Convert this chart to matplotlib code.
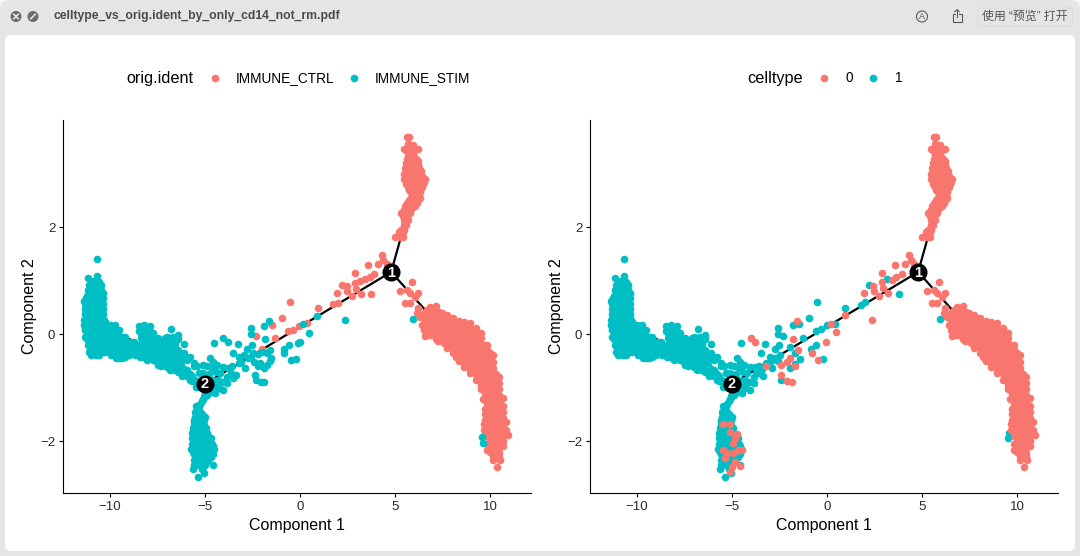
import matplotlib
matplotlib.use("Agg")
import matplotlib.pyplot as plt
from matplotlib.patches import FancyBboxPatch, Circle, Rectangle

plt.rcParams['font.family'] = ['Liberation Sans', 'Noto Sans CJK SC', 'DejaVu Sans']

RED = '#F8766D'
TEAL = '#00BFC4'

# points, branch by branch (x, y)
left_top = [(-10.7,1.41),(-11.15,1.05),(-10.85,1.0),(-10.7,1.08),(-10.55,0.98),
    (-11.1,.92),(-10.85,.92),(-10.6,.92),(-10.45,.92),(-11.15,.82),(-10.9,.82),(-10.65,.82),(-10.45,.82),
    (-11.2,.72),(-10.95,.72),(-10.7,.72),(-10.45,.72),(-11.35,.62),(-11.1,.62),(-10.85,.62),(-10.6,.62),(-10.42,.62),
    (-11.25,.52),(-11,.52),(-10.75,.52),(-10.45,.52),(-11.25,.42),(-11,.42),(-10.75,.42),(-10.45,.42),
    (-11.25,.32),(-11,.32),(-10.75,.32),(-10.4,.32),(-11.25,.22),(-11,.22),(-10.75,.22),(-10.45,.22),(-10.25,.22),
    (-11.3,.12),(-11.05,.12),(-10.8,.12),(-10.5,.12),(-10.2,.12),(-9.85,.12)]
left_band = [(-11.2,0),(-11.2,-.1),(-11.15,-.2),(-10.95,0),(-10.95,-.1),(-10.95,-.2),(-10.95,-.3),(-10.95,-.38),(-10.75,-.4),
    (-10.7,0),(-10.7,-.1),(-10.7,-.2),(-10.7,-.3),(-10.4,.02),(-10.4,-.08),(-10.4,-.18),(-10.4,-.28),(-10.4,-.33),
    (-10.1,.02),(-10.1,-.08),(-10.1,-.18),(-10.1,-.28),(-9.8,0),(-9.8,-.1),(-9.8,-.2),(-9.8,-.3),(-9.8,-.38),
    (-9.5,.07),(-9.5,-.03),(-9.5,-.13),(-9.5,-.23),(-9.5,-.33),(-9.5,-.43),(-9.2,-.05),(-9.2,-.15),(-9.2,-.25),(-9.2,-.35),(-9.2,-.42),
    (-8.9,-.15),(-8.9,-.25),(-8.9,-.35),(-8.6,-.28),(-8.6,-.36)]
left_band2 = [(-8.45,.15),(-8.45,.05),(-8.45,-.3),(-8.4,-.42),(-8.2,.17),(-8.2,.07),(-8.2,-.03),(-8.2,-.13),(-8.2,-.23),(-8.2,-.33),(-8.2,-.43),
    (-7.9,.15),(-7.9,.05),(-7.9,-.05),(-7.9,-.15),(-7.9,-.25),(-7.9,-.35),(-7.9,-.45),(-7.6,-.1),(-7.6,-.2),(-7.6,-.3),(-7.6,-.4),(-7.6,-.5),
    (-7.3,-.15),(-7.3,-.25),(-7.3,-.35),(-7.3,-.45),(-7.3,-.55),(-7.3,-.6),(-7,-.05),(-7,-.15),(-7,-.25),(-7,-.35),(-7,-.45),(-7,-.55),(-7,-.62),
    (-6.78,.09),(-6.7,-.05),(-6.7,-.15),(-6.7,-.25),(-6.7,-.35),(-6.7,-.55),(-6.7,-.65),(-6.4,-.02),(-6.4,-.1),(-6.4,-.3),(-6.4,-.45),(-6.4,-.55),(-6.4,-.7),
    (-6.1,-.18),(-6.1,-.35),(-6.1,-.4),(-6.1,-.65),(-6.1,-.75),(-5.8,-.42),(-5.8,-.75),(-5.8,-.85),(-5.6,-.55),(-5.6,-.6),(-5.6,-.85),(-5.35,-.9),(-5.35,-.98)]
node2_cluster = [(-4.74,-.45),(-5.09,-.58),(-4.39,-.58),(-4.04,-.61),(-4.21,-.73),(-3.86,-.8),(-4.56,-.52),(-4.91,-.6),(-4.65,-.64),
    (-4.39,-.99),(-4.04,-1.05),(-4.12,-.89),(-4.48,-1.11),(-4.91,-1.14),(-3.86,-.92),(-5.1,-.72),(-4.7,-1.08),
    (-4.4,-.7),(-4.3,-.85),(-4.55,-.85),(-4.65,-.95),(-4.25,-1.0),(-3.65,-.72),(-3.6,-.6),(-3.2,-.55),(-4.8,-.75),(-5.3,-.72),(-5.4,-.6)]
bottom_blob = [(-5,-1.12),(-5.1,-1.22),(-5.25,-1.3),(-5.35,-1.38),(-5.5,-1.45),(-5.25,-1.45),(-5.5,-1.55),(-5.25,-1.55),(-5,-1.55),
    (-5.6,-1.65),(-5.35,-1.65),(-5.1,-1.65),(-5.65,-1.75),(-5.4,-1.75),(-5.15,-1.75),(-4.95,-1.75),(-5.7,-1.85),(-5.45,-1.85),(-5.2,-1.85),(-4.9,-1.85),
    (-5.7,-1.95),(-5.45,-1.95),(-5.2,-1.95),(-4.95,-1.95),(-4.7,-1.95),(-5.7,-2.05),(-5.45,-2.05),(-5.2,-2.05),(-4.95,-2.05),(-4.65,-2.05),
    (-5.75,-2.15),(-5.5,-2.15),(-5.25,-2.15),(-5,-2.15),(-4.75,-2.15),(-4.5,-2.15),(-5.6,-2.25),(-5.3,-2.25),(-5.05,-2.25),(-4.8,-2.25),(-4.6,-2.25),
    (-5.55,-2.35),(-5.3,-2.35),(-5.05,-2.35),(-4.85,-2.35),(-5.6,-2.45),(-5.3,-2.45),(-5,-2.45),(-4.6,-2.45),(-5.65,-2.52),(-5.15,-2.52),(-5.05,-2.6),(-5.35,-2.68)]
top_branch = [(5.65,3.68),(5.75,3.69),(5.67,3.55),(5.93,3.53),(6.23,3.45),(5.47,3.45),(5.65,3.42),(5.7,3.35),(5.95,3.35),
    (5.65,3.27),(5.9,3.27),(6.1,3.27),(5.6,3.19),(5.85,3.19),(6.1,3.19),(5.55,3.1),(5.8,3.1),(6.05,3.1),(6.25,3.1),
    (5.5,3),(5.75,3),(6,3),(6.3,3),(5.5,2.9),(5.75,2.9),(6,2.9),(6.25,2.9),(6.6,2.9),(5.6,2.8),(5.85,2.8),(6.1,2.8),(6.45,2.8),
    (5.75,2.7),(6,2.7),(6.3,2.7),(5.95,2.6),(6.2,2.6),(5.75,2.5),(6,2.5),(6.2,2.5),(5.55,2.4),(5.8,2.4),(6.05,2.4),(5.5,2.32),(5.75,2.32),(5.45,2.32),
    (5.3,2.26),(5.55,2.26),(5.8,2.26),(5.5,2.13),(5.7,2.13),(5.45,2.03),(5.6,2.03),(5.3,1.95),(5.5,1.95),(5,1.82),(5.25,1.82),(5.4,1.82)]
right_near = [(5.26,.81),(5.61,.82),(5.88,.97),(5.79,.76),(6.23,.77),(6.05,.7),(5.53,.58),(5.79,.58),(6.23,.48),(6.14,.39),(6.3,.32),
    (6.58,-.04),(7.28,-.13),(6.4,.17),(6.67,.1),(9.61,-1.21)]
right_band = [(6.7,.45),(6.7,.34),(6.7,.23),(6.7,.12),(7,.48),(7,.37),(7,.26),(7,.15),(7,.04),
    (7.3,.42),(7.3,.31),(7.3,.2),(7.3,.09),(7.3,-.02),(7.6,.36),(7.6,.25),(7.6,.14),(7.6,.03),(7.6,-.08),(7.6,-.17),
    (7.9,.3),(7.9,.19),(7.9,.08),(7.9,-.03),(7.9,-.14),(7.9,-.25),(8.2,.2),(8.2,.1),(8.2,-.01),(8.2,-.12),(8.2,-.23),(8.2,-.34),(8.2,-.42),
    (8.5,.18),(8.5,.07),(8.5,-.04),(8.5,-.15),(8.5,-.26),(8.5,-.37),(8.5,-.5),(8.8,.17),(8.8,.06),(8.8,-.05),(8.8,-.16),(8.8,-.27),(8.8,-.38),(8.8,-.49),(8.8,-.6),
    (9.1,.08),(9.1,-.03),(9.1,-.14),(9.1,-.25),(9.1,-.36),(9.1,-.47),(9.1,-.58),(9.1,-.69),(9.4,-.02),(9.4,-.13),(9.4,-.24),(9.4,-.35),(9.4,-.46),(9.4,-.57),(9.4,-.68),(9.4,-.79),(9.4,-.86),
    (9.7,-.2),(9.7,-.31),(9.7,-.42),(9.7,-.53),(9.7,-.64),(9.7,-.75),(9.7,-.86),(9.7,-.97),(10,-.35),(10,-.46),(10,-.57),(10,-.68),(10,-.79),(10,-.9),(10,-1.01),(10,-1.12)]
right_tail = [(10.3,-.75),(10.3,-.86),(10.3,-.97),(10.3,-1.08),(10.3,-1.19),(10.3,-1.3),(10.3,-1.41),(10.3,-1.52),(10.3,-1.63),(10.3,-1.74),(10.3,-1.85),(10.3,-1.96),(10.3,-2.07),(10.3,-2.18),(10.3,-2.29),
    (10.55,-1.3),(10.55,-1.41),(10.55,-1.52),(10.55,-1.63),(10.55,-1.74),(10.55,-1.85),(10.55,-1.96),(10.55,-2.05),(10.85,-1.65),(10.85,-1.8),(10.95,-1.88),
    (10,-1.23),(10,-1.34),(10,-1.45),(10,-1.56),(10,-1.67),(10,-1.78),(10,-1.89),(10,-2),(10,-2.11),(10,-2.2),
    (9.75,-1.4),(9.75,-1.5),(9.75,-1.6),(9.75,-1.7),(9.86,-2.17),(10.18,-2.36),(10.53,-2.36),(10.35,-2.48),(9.72,-1.1),(9.55,-1.02)]

# more points inside the dense parts, (y, [x, ...]) rows and (x, [y, ...]) columns
left_fill_rows = [(.97,[-10.95,-10.7]),(.87,[-11.05,-10.8,-10.55]),(.77,[-11.1,-10.85,-10.55,-10.35]),(.67,[-11.25,-11,-10.75,-10.5,-10.35]),
    (.57,[-11.3,-11.1,-10.85,-10.6,-10.35]),(.47,[-11.3,-11.1,-10.85,-10.6,-10.35]),(.37,[-11.3,-11.1,-10.85,-10.6,-10.35]),(.27,[-11.35,-11.1,-10.85,-10.6,-10.3]),
    (.17,[-11.35,-11.15,-10.9,-10.65,-10.35,-10,-9.75]),(.07,[-11.3,-11.05,-10.8,-10.55,-10.25,-9.95,-9.65]),
    (-.05,[-11.3,-11.05,-10.8,-10.55,-10.25,-9.95,-9.65,-9.35]),(-.15,[-11.05,-10.8,-10.55,-10.25,-9.95,-9.65,-9.35,-9.05,-8.75]),
    (-.25,[-11.05,-10.8,-10.55,-10.25,-9.95,-9.65,-9.35,-9.05,-8.75,-8.55]),(-.33,[-11.1,-10.85,-10.55,-10.25,-9.95,-9.65,-9.35,-9.05,-8.75,-8.5]),
    (-.4,[-11,-10.6,-9.95,-9.65,-9.35,-9,-8.7]),(-.45,[-9.7,-9.5,-9.35])]
band2_fill_rows = [(.12,[-8.35,-8.05]),(.02,[-8.35,-8.05,-7.75]),(-.08,[-8.35,-8.05,-7.75,-7.45,-7.1,-6.85]),(-.18,[-8.35,-8.05,-7.75,-7.45,-7.15,-6.85,-6.55]),
    (-.28,[-8.35,-8.05,-7.75,-7.45,-7.15,-6.85,-6.55]),(-.38,[-8.3,-8.05,-7.75,-7.45,-7.15,-6.85,-6.55,-6.25]),(-.48,[-8.05,-7.75,-7.45,-7.15,-6.85,-6.55,-6.25,-5.95]),
    (-.58,[-7.45,-7.15,-6.85,-6.55,-6.25]),(-.68,[-6.85,-6.55,-6.25,-5.95]),(-.78,[-6.2,-5.95,-5.7]),(-.88,[-5.7,-5.5,-5.2]),(-.98,[-5.45,-5.2])]
blob_fill_rows = [(-1.17,[-5.05]),(-1.26,[-5.18]),(-1.34,[-5.3,-5.45]),(-1.5,[-5.4,-5.15]),(-1.6,[-5.55,-5.3,-5.05]),(-1.7,[-5.55,-5.3,-5.05]),(-1.8,[-5.6,-5.3,-5.05]),
    (-1.9,[-5.6,-5.3,-5.1,-4.85]),(-2.0,[-5.6,-5.3,-5.1,-4.8]),(-2.1,[-5.6,-5.35,-5.1,-4.85,-4.6]),(-2.2,[-5.65,-5.4,-5.15,-4.9,-4.65]),(-2.3,[-5.45,-5.2,-4.95,-4.7]),(-2.4,[-5.45,-5.15,-4.95])]
top_fill_rows = [(3.42,[5.8,6.0]),(3.31,[5.8,6.0]),(3.23,[5.75,6.0,6.2]),(3.15,[5.7,5.95,6.2]),(3.05,[5.65,5.9,6.15,6.35]),(2.95,[5.6,5.85,6.1,6.4]),(2.85,[5.65,5.9,6.15,6.4,6.55]),
    (2.75,[5.7,5.95,6.2,6.4]),(2.65,[5.85,6.1,6.3]),(2.55,[5.85,6.1,6.3]),(2.45,[5.65,5.9,6.15]),(2.36,[5.65,5.9]),(2.2,[5.4,5.65]),(2.08,[5.55]),(1.9,[5.2,5.4])]
right_fill_cols = [(6.55,[.4,.29,.18,.07]),(6.85,[.5,.42,.31,.2,.09,-.02]),(7.15,[.52,.42,.31,.2,.09,-.02,-.1]),(7.45,[.4,.29,.18,.07,-.04,-.13]),(7.75,[.36,.25,.14,.03,-.08,-.19,-.26]),
    (8.05,[.3,.2,.08,-.03,-.14,-.25,-.36]),(8.35,[.25,.15,.04,-.07,-.18,-.29,-.4,-.5]),(8.65,[.23,.12,.01,-.1,-.21,-.32,-.43,-.54,-.62]),(8.95,[.2,.12,.01,-.1,-.21,-.32,-.43,-.54,-.65,-.72]),
    (9.25,[.12,.03,-.08,-.19,-.3,-.41,-.52,-.63,-.74,-.85]),(9.55,[.02,-.07,-.18,-.29,-.4,-.51,-.62,-.73,-.84,-.95]),(9.85,[-.2,-.29,-.4,-.51,-.62,-.73,-.84,-.95,-1.06,-1.15,-1.3,-1.45,-1.6,-1.75,-1.9,-2.05]),
    (10.15,[-.4,-.52,-.63,-.74,-.85,-.96,-1.07,-1.18,-1.29,-1.4,-1.51,-1.62,-1.73,-1.84,-1.95,-2.06,-2.17,-2.28]),
    (10.45,[-.8,-.91,-1.02,-1.13,-1.24,-1.35,-1.46,-1.57,-1.68,-1.79,-1.9,-2.01,-2.12,-2.22,-2.3]),(10.7,[-1.2,-1.35,-1.46,-1.57,-1.68,-1.79,-1.9,-2,-2.1]),(9.7,[-1.68,-1.8])]

# middle scatter, left panel coloured by orig.ident
mid_ctrl_left = [(-.51,.59),(-.96,.3),(-1.49,.17),(-2.32,-.03),(-1.32,-.08),(-2,-.27),(-.61,.05),(-.35,.07),(-.07,.15),(.39,.2),(.93,.48),(1.75,.56),(2,.58),
    (1.96,.77),(2.19,.92),(2.46,.9),(2.46,.81),(2.72,.72),(3.21,.75),(3.74,.74),(2.95,.85),(2.9,.96),(3.16,1),(3.42,1.03),(3.68,1.07),(3.9,1.13),(2.88,1.15),(3.6,1.29),(4.12,1.3),(4.3,1.48),(4.39,1.38),(4.6,1.3)]
mid_stim_left = [(-4.53,-.16),(-4.04,-.08),(-3.77,-.14),(-3.28,-.19),(-3.5,-.36),(-2.6,.12),(-2.6,0),(-1.88,.15),(-1.64,.25),(-1.86,-.1),(-2.5,-.2),(-2.8,-.28),(-2.95,-.39),(-2.6,-.42),(-2.2,-.38),(-2,-.33),
    (-1.58,-.3),(-1.75,-.36),(-1.5,-.45),(-2.1,-.55),(-1.75,-.58),(-2.4,-.52),(-1.9,-.64),(-2.35,-.76),(-2.3,-.86),(-2.05,-.89),(-1.87,-.89),(-3.1,-.52),(-2.9,-.64),(-3.35,-.76),(-3.8,-.64),(-3.5,-.82),
    (-.84,-.27),(-.56,-.21),(-.82,-.36),(-.49,-.49),(-.2,-.47),(-.09,-.16),(0,-.14),(.48,.02),(.14,.19),(.9,.34),(2.37,.26),(5.96,.29),(9.56,-1.92),(9.61,-2.03),
    (-2.75,-.45),(-2.45,-.35),(-3.2,-.42),(-2.2,-.6),(-1.6,-.5)]

# same stretch in the right panel, coloured by celltype
mid_type0 = [(-4,-.08),(-3.8,-.14),(-1.6,.25),(-1.8,-.1),(-1.5,-.3),(-.8,-.36),(-.45,-.49),(-.05,-.14),(.5,.03),(.2,.19),(.95,.36),(2.38,.27),(-2.4,-.58),(-2.12,-.52),(-1.95,-.45),(-1.68,-.6),(-2.4,-.77),(-2.1,-.88),(-1.85,-.89),(-3.2,-.6),
    (1.97,.77),(2.45,.89),(2.47,.81),(2.76,.72),(3.2,.76),(2.9,.98),(2.96,.87),(2.9,1.15),(3.6,1.29),(3.4,1.01),(3.65,1.07),(3.93,1.13),(4.12,1.3),(4.33,1.48),(4.4,1.38),(4.6,1.3)]
mid_type1 = [(-.5,.59),(-.95,.3),(-1.8,.16),(-1.47,.19),(-2.56,.12),(-2.56,0),(-2.3,-.04),(-1.28,-.08),(-3.26,-.19),(-4.5,-.16),(-3.47,-.36),(-2.5,-.2),(-2.75,-.28),(-1.95,-.25),(-1.7,-.36),(-.55,-.2),(-.84,-.27),
    (-1.42,-.46),(-1.68,-.56),(-1.95,-.64),(-2.9,-.64),(-2.4,-.85),(-.2,-.47),(-.57,.06),(-.33,.09),(-.02,.16),(.42,.19),(.95,.48),(1.78,.55),(2,.59),(2.2,.92),(3.18,1.02),(3.77,.74),
    (-3,-.42),(-2.95,-.5),(-3.4,-.65),(-3.75,-.72),(-3.35,-.78),(-3.8,-.62),(5.58,2.95),(9.6,-1.85),(9.55,-1.95),(9.75,-1.85),(5.96,.29),(-2.75,-.45),(-2.45,-.4),(-2.6,-.5)]
blob_type0 = [(-5.46,-1.68),(-5.11,-1.68),(-5.11,-1.83),(-4.84,-1.95),(-4.75,-1.86),(-4.93,-2.04),(-4.49,-2.17),(-5.46,-2.17),(-5.28,-2.23),(-4.93,-2.23),(-5.37,-2.31),(-4.84,-2.39),(-4.58,-2.46),(-5.02,-2.48),(-5.11,-2.57),(-4.67,-2.17)]

# trajectory lines
traj_main = [(4.8,1.16),(-5,-.93)]
traj_top = [(4.8,1.16),(5.4,1.92),(5.8,2.6),(5.9,3.4)]
traj_right = [(4.8,1.16),(6.67,.42),(9.3,-.5),(10.1,-1.1),(10.3,-2.1)]
traj_left = [(-5,-.93),(-8.42,-.2),(-9.47,0),(-10.7,.3)]
traj_bottom = [(-5,-.93),(-5.2,-1.3),(-5.2,-2.2)]
nodes = [(4.79,1.16,'1'),(-5,-.93,'2')]

x_ticks = [-10, -5, 0, 5, 10]
y_ticks = [-2, 0, 2]
x_tick_labels = ['\u221210', '\u22125', '0', '5', '10']
y_tick_labels = ['\u22122', '0', '2']


def rows(table):
    return [(x, y) for y, xs in table for x in xs]


def cols(table):
    return [(x, y) for x, ys in table for y in ys]


stim_all = left_top + left_band + left_band2 + node2_cluster + bottom_blob + rows(left_fill_rows) + rows(band2_fill_rows) + rows(blob_fill_rows)
ctrl_all = top_branch + right_near + right_band + right_tail + rows(top_fill_rows) + cols(right_fill_cols)


def draw_points(ax, pts, color, z):
    ax.scatter([p[0] for p in pts], [p[1] for p in pts], s=30, color=color, linewidths=0, zorder=z)


def style_panel(ax):
    for seg in [traj_main, traj_top, traj_right, traj_left, traj_bottom]:
        ax.plot([p[0] for p in seg], [p[1] for p in seg], color='black', lw=1.6, zorder=1, solid_capstyle='butt')
    for nx, ny, lab in nodes:
        ax.plot(nx, ny, 'o', color='black', ms=13, mew=0, zorder=5)
        ax.text(nx, ny - .01, lab, color='white', fontsize=10.5, fontweight='bold', ha='center', va='center', zorder=6)
    ax.set_xlim(-12.47, 12.16)
    ax.set_ylim(-2.97, 4.0)
    ax.set_xticks(x_ticks)
    ax.set_xticklabels(x_tick_labels)
    ax.set_yticks(y_ticks)
    ax.set_yticklabels(y_tick_labels)
    ax.tick_params(labelsize=9.5, length=3, width=.8, labelcolor='#2a2a2a', pad=2.5)
    ax.spines['top'].set_visible(False)
    ax.spines['right'].set_visible(False)
    ax.set_xlabel('Component 1', fontsize=11.5, labelpad=4)
    ax.set_ylabel('Component 2', fontsize=11.5, labelpad=2)
    ax.patch.set_alpha(0)


fig = plt.figure(figsize=(10.8, 5.56), dpi=100, facecolor='#F6F6F6')

# window chrome in pixel coordinates
bg = fig.add_axes([0, 0, 1, 1], zorder=0)
bg.set_xlim(0, 1080)
bg.set_ylim(556, 0)
bg.axis('off')
bg.add_patch(FancyBboxPatch((0, 0), 1080, 590, boxstyle='round,pad=0,rounding_size=10', fc='#E6E5E3', ec='none', clip_on=True))
bg.add_patch(FancyBboxPatch((5, 35), 1070, 516, boxstyle='round,pad=0,rounding_size=6', fc='white', ec='none'))
for cx in (16, 33):
    bg.add_patch(Circle((cx, 16.5), 5.5, fc='#6b6b6b', ec='none'))
bg.plot([13.8, 18.2], [14.3, 18.7], color='#e6e5e3', lw=1.2)
bg.plot([13.8, 18.2], [18.7, 14.3], color='#e6e5e3', lw=1.2)
bg.plot([30.8, 35.2], [18.7, 14.3], color='#e6e5e3', lw=1.2)
bg.text(53, 16.5, 'celltype_vs_orig.ident_by_only_cd14_not_rm.pdf', fontsize=8.75, fontweight='bold', color='#4a4a4a', va='center')
bg.add_patch(Circle((922, 16.5), 5.5, fc='none', ec='#5a5a5a', lw=.8))
bg.text(922, 16.5, 'A', fontsize=6.5, color='#5a5a5a', ha='center', va='center')
bg.add_patch(Rectangle((952.5, 14), 9, 8, fc='none', ec='#5a5a5a', lw=.8))
bg.add_patch(Rectangle((955.5, 11), 3, 5, fc='#E6E5E3', ec='none'))
bg.plot([957, 957], [9.5, 17], color='#5a5a5a', lw=.8)
bg.plot([954.8, 957, 959.2], [11.8, 9.5, 11.8], color='#5a5a5a', lw=.8)
bg.add_patch(FancyBboxPatch((977.5, 8), 95, 18, boxstyle='round,pad=0,rounding_size=4', fc='#E6E5E3', ec='#dcdbd9', lw=.8))
bg.text(1025, 17, '使用 “预览” 打开', fontsize=8.6, color='#555555', ha='center', va='center')

# legends
bg.text(126, 78, 'orig.ident', fontsize=11.7, va='center')
bg.plot(215, 77.5, 'o', color=RED, ms=5.5, mew=0)
bg.text(236, 78, 'IMMUNE_CTRL', fontsize=9.8, va='center')
bg.plot(354, 77.5, 'o', color=TEAL, ms=5.5, mew=0)
bg.text(375, 78, 'IMMUNE_STIM', fontsize=9.8, va='center')
bg.text(747, 78, 'celltype', fontsize=11.7, va='center')
bg.plot(824, 77.5, 'o', color=RED, ms=5.5, mew=0)
bg.text(845, 78.5, '0', fontsize=9.8, va='center')
bg.plot(873, 77.5, 'o', color=TEAL, ms=5.5, mew=0)
bg.text(895, 78.5, '1', fontsize=9.8, va='center')

ax1 = fig.add_axes([63 / 1080, 63 / 556, 468 / 1080, 373 / 556], zorder=1)
draw_points(ax1, ctrl_all + mid_ctrl_left, RED, 2)
draw_points(ax1, stim_all + mid_stim_left, TEAL, 3)
style_panel(ax1)

ax2 = fig.add_axes([590 / 1080, 63 / 556, 468 / 1080, 373 / 556], zorder=1)
draw_points(ax2, stim_all + mid_type1, TEAL, 2)
draw_points(ax2, ctrl_all + mid_type0 + blob_type0, RED, 3)
style_panel(ax2)

fig.savefig('out.png', dpi=100, facecolor=fig.get_facecolor())
